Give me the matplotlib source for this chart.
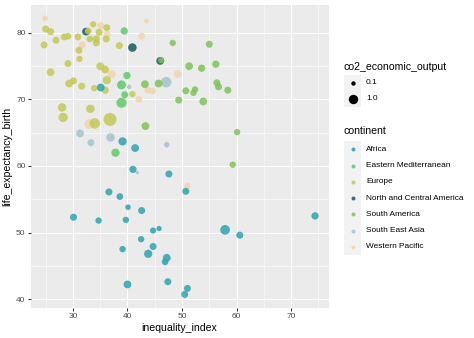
import numpy as np
import matplotlib
matplotlib.use("Agg")
import matplotlib.pyplot as plt

# ---- data ----
continents = ["Africa", "Eastern Mediterranean", "Europe", "North and Central America",
              "South America", "South East Asia", "Western Pacific"]
colors = {
    "Africa": "#2ca4b0",
    "Eastern Mediterranean": "#5dca69",
    "Europe": "#c4c956",
    "North and Central America": "#175b5e",
    "South America": "#7ec45a",
    "South East Asia": "#a5c4cd",
    "Western Pacific": "#f2d4ae",
}

africa_x = [35.1, 39.1, 41.4, 41.0, 47.6, 50.7, 36.6, 38.6, 40.1, 42.6, 30.1, 34.7, 39.7, 44.7,
            45.8, 42.5, 44.7, 39.1, 43.8, 47.2, 46.9, 40.0, 47.4, 51.0, 50.5, 74.4, 57.9, 60.6]
africa_y = [71.8, 63.7, 62.7, 59.5, 58.8, 56.2, 56.1, 55.4, 53.8, 53.3, 52.3, 51.8, 51.9, 50.3,
            50.6, 49.0, 47.9, 47.5, 46.8, 46.2, 45.6, 42.2, 42.6, 41.6, 40.7, 52.5, 50.4, 49.6]
africa_co2 = [0.42, 0.50, 0.42, 0.34, 0.30, 0.30, 0.30, 0.26, 0.14, 0.30, 0.30, 0.22, 0.22, 0.20,
              0.12, 0.22, 0.30, 0.22, 0.50, 0.42, 0.26, 0.42, 0.30, 0.30, 0.30, 0.34, 0.80, 0.30]

emed_x = [39.4, 39.9, 38.9, 39.5, 38.9, 37.8]
emed_y = [80.3, 73.6, 72.2, 70.7, 69.5, 62.0]
emed_co2 = [0.34, 0.34, 0.62, 0.30, 0.90, 0.50]

europe_x = [25.0, 25.9, 24.7, 26.9, 28.4, 29.1, 30.9, 32.8, 33.7, 36.2, 34.8, 33.1, 34.3, 34.3,
            36.1, 38.5, 31.1, 31.2, 29.1, 25.9, 35.0, 35.9, 36.2, 29.3, 30.1, 31.6, 33.9, 35.9,
            40.9, 28.0, 28.2, 33.2, 36.8, 34.0]
europe_y = [80.6, 80.2, 78.2, 78.9, 79.4, 79.5, 79.4, 80.3, 81.3, 80.8, 80.1, 79.1, 79.1, 78.5,
            79.1, 78.1, 77.4, 76.1, 75.4, 74.1, 75.0, 74.5, 72.9, 72.4, 72.8, 72.0, 71.7, 71.4,
            70.8, 68.8, 67.3, 68.6, 67.0, 66.4]
europe_co2 = [0.30, 0.30, 0.30, 0.30, 0.30, 0.26, 0.30, 0.26, 0.22, 0.30, 0.30, 0.26, 0.30, 0.30,
              0.30, 0.30, 0.30, 0.22, 0.30, 0.42, 0.42, 0.42, 0.50, 0.42, 0.30, 0.30, 0.22, 0.34,
              0.22, 0.55, 0.70, 0.55, 1.80, 1.00]

ncam_x = [32.4, 40.9, 46.0]
ncam_y = [80.2, 77.8, 75.8]
ncam_co2 = [0.42, 0.55, 0.42]

samer_x = [48.3, 55.0, 46.2, 51.3, 53.6, 56.2, 45.7, 50.7, 52.1, 52.4, 56.4, 56.7, 58.4, 49.4,
           53.9, 60.1, 59.3, 43.2, 43.3]
samer_y = [78.5, 78.3, 75.9, 75.0, 74.7, 75.3, 72.4, 71.3, 71.0, 71.5, 72.5, 71.9, 71.4, 69.9,
           69.7, 65.1, 60.2, 72.3, 66.0]
samer_co2 = [0.22, 0.30, 0.20, 0.42, 0.34, 0.34, 0.42, 0.30, 0.22, 0.22, 0.30, 0.30, 0.30, 0.30,
             0.42, 0.22, 0.22, 0.42, 0.42]

seasia_x = [40.3, 47.1, 31.3, 33.3, 36.9, 47.2, 41.8]
seasia_y = [71.9, 72.6, 64.9, 63.5, 64.3, 63.2, 59.0]
seasia_co2 = [0.08, 1.00, 0.42, 0.30, 0.55, 0.14, 0.06]

wpac_x = [24.9, 35.1, 36.3, 31.7, 43.5, 42.6, 49.2, 37.1, 43.7, 44.6, 42.1, 33.0, 51.0]
wpac_y = [82.2, 81.1, 79.8, 78.2, 81.8, 79.5, 73.8, 73.8, 71.4, 71.3, 70.0, 66.3, 57.0]
wpac_co2 = [0.14, 0.30, 0.30, 0.30, 0.10, 0.30, 0.42, 0.42, 0.26, 0.26, 0.30, 0.85, 0.22]

series = {
    "Africa": (africa_x, africa_y, africa_co2),
    "Eastern Mediterranean": (emed_x, emed_y, emed_co2),
    "Europe": (europe_x, europe_y, europe_co2),
    "North and Central America": (ncam_x, ncam_y, ncam_co2),
    "South America": (samer_x, samer_y, samer_co2),
    "South East Asia": (seasia_x, seasia_y, seasia_co2),
    "Western Pacific": (wpac_x, wpac_y, wpac_co2),
}
draw_order = ["North and Central America", "Western Pacific", "South East Asia", "Europe",
              "South America", "Eastern Mediterranean", "Africa"]

size_breaks = [0.1, 1.0]
x_ticks = [30, 40, 50, 60, 70]
y_ticks = [40, 50, 60, 70, 80]

# ---- figure (72 dpi so 1 pt == 1 px, like ggplot) ----
W, H = 474, 338
plt.rcParams["font.family"] = ["Liberation Sans", "DejaVu Sans"]
fig = plt.figure(figsize=(W / 72, H / 72), dpi=72)

all_x = np.concatenate([series[c][0] for c in continents])
all_y = np.concatenate([series[c][1] for c in continents])
all_v = np.concatenate([series[c][2] for c in continents])
vmin, vmax = all_v.min(), all_v.max()
dmin, dmax = 3.5, 13.0


def diam(v):
    v = np.asarray(v, dtype=float)
    return dmin + (dmax - dmin) * np.sqrt(np.clip((v - vmin) / (vmax - vmin), 0, 1))


# panel box in pixels
pl, pr, pt, pb = 30.5, 328.6, 4.5, 308.2
ax = fig.add_axes([pl / W, 1 - pb / H, (pr - pl) / W, (pb - pt) / H])
ax.set_facecolor("#EBEBEB")
for s in ax.spines.values():
    s.set_visible(False)

xr = all_x.max() - all_x.min()
yr = all_y.max() - all_y.min()
ax.set_xlim(all_x.min() - 0.05 * xr, all_x.max() + 0.05 * xr)
ax.set_ylim(all_y.min() - 0.05 * yr, all_y.max() + 0.05 * yr)

ax.set_xticks(x_ticks)
ax.set_yticks(y_ticks)
ax.set_xticks([t + 5 for t in [20] + x_ticks], minor=True)
ax.set_yticks([t + 5 for t in y_ticks[:-1]], minor=True)
ax.grid(which="major", color="white", linewidth=1.07)
ax.grid(which="minor", color="white", linewidth=0.53)
ax.set_axisbelow(True)
ax.tick_params(which="major", length=2.75, width=1.07, color="#333333",
               labelsize=8.4, labelcolor="#4D4D4D", pad=2.2)
ax.tick_params(which="minor", length=0)

for c in draw_order:
    x, y, v = series[c]
    ax.scatter(x, y, s=diam(v) ** 2, color=colors[c], alpha=0.85, linewidths=0, zorder=3)

ax.set_xlabel("inequality_index", fontsize=10.5, labelpad=3)
ax.set_ylabel("life_expectancy_birth", fontsize=10.5, labelpad=4)

# ---- legends, drawn in pixel space ----
lax = fig.add_axes([0, 0, 1, 1], zorder=5)
lax.set_xlim(0, W)
lax.set_ylim(H, 0)
lax.axis("off")

key_x, key_w = 344, 17.28
lab_x = 366

lax.text(key_x, 67, "co2_economic_output", fontsize=10.5, va="center", ha="left")
size_rows = [82.5, 98.5]
for yy, b in zip(size_rows, size_breaks):
    lax.add_patch(plt.Rectangle((key_x, yy - 8), key_w, 16, color="#F2F2F2", lw=0))
    lax.scatter([key_x + key_w / 2], [yy], s=diam(b) ** 2 * 0.8, color="black", lw=0)
    lax.text(lab_x, yy, f"{b:.1f}", fontsize=8.3, va="center", ha="left")

lax.text(key_x, 131.5, "continent", fontsize=10.5, va="center", ha="left")
row0, row_h = 149.3, 16.28
for i, c in enumerate(continents):
    yy = row0 + i * row_h
    lax.add_patch(plt.Rectangle((key_x, yy - row_h / 2), key_w, row_h, color="#F2F2F2", lw=0))
    lax.scatter([key_x + key_w / 2], [yy], s=16, color=colors[c], alpha=0.85, lw=0)
    lax.text(lab_x, yy, c, fontsize=8.3, va="center", ha="left")

fig.savefig("out.png", dpi=72)
